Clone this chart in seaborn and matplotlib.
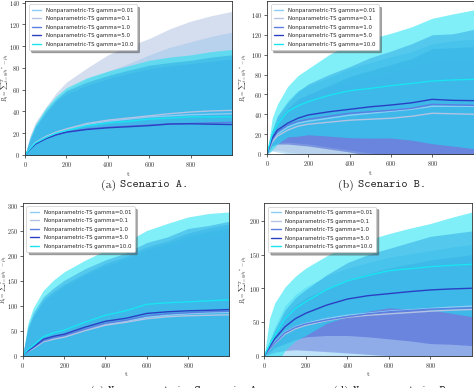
import numpy as np
import pandas as pd
import matplotlib
matplotlib.use("Agg")
import matplotlib.pyplot as plt
import seaborn as sns

# ---------------- data ----------------
t = [0, 25, 50, 100, 150, 200, 300, 400, 500, 600, 700, 800, 900, 1000]
gammas = ["0.01", "0.1", "1.0", "5.0", "10.0"]

# Scenario A
mean_a_001 = [0, 6, 11, 16, 20, 23, 28, 31, 33, 35, 36, 37, 37.5, 38]
std_a_001 = [0, 12, 17, 26, 32, 37, 42, 46, 51, 57, 63, 67, 71.5, 75]
mean_a_01 = [0, 6, 11.5, 17, 21, 24, 29, 32, 34, 36, 38, 39.5, 40.5, 41]
std_a_01 = [0, 12, 18.5, 27, 36, 43, 51, 60, 66, 71, 78, 83.5, 87.5, 91]
mean_a_1 = [0, 5.5, 10, 15, 18.5, 21, 24, 25.5, 26.5, 27.5, 28.5, 29, 29.5, 30]
std_a_1 = [0, 8.5, 15, 23, 30.5, 35, 40, 44.5, 48.5, 51.5, 53.5, 55, 56.5, 58]
mean_a_5 = [0, 5.5, 10, 15, 18.5, 21, 23.5, 25, 26, 27, 28.5, 28.7, 28.3, 28]
std_a_5 = [0, 9.5, 16, 25, 32.5, 38, 43.5, 48, 52, 55.5, 56.5, 58.3, 61.7, 64]
mean_a_10 = [0, 6, 11, 16, 20, 22.5, 27, 29.5, 31, 33, 34, 35, 35, 35]
std_a_10 = [0, 10, 17, 27, 34, 39.5, 44, 47.5, 51, 54, 56, 57, 60, 62]

# Scenario B
mean_b_001 = [0, 13, 20, 27, 31, 33, 36, 39, 41, 43, 45, 48, 48, 48]
std_b_001 = [0, 10, 18, 27, 33, 36, 41, 47, 51, 55, 58, 63, 66, 68]
mean_b_01 = [0, 12, 18, 24, 28, 30, 32, 34, 35, 36, 38, 41, 40.5, 40]
std_b_01 = [0, 8, 14, 22, 27, 30, 35, 39, 42, 46, 49, 53, 54.5, 55]
mean_b_1 = [0, 14, 22, 29, 33, 35, 38, 41, 42.5, 44, 46, 50, 49.5, 49]
std_b_1 = [0, 5, 11, 17, 22, 25, 31, 37, 41.5, 46, 50, 56, 57.5, 59]
mean_b_5 = [0, 16, 24, 31, 36, 39.3, 42.5, 45, 47.5, 49.3, 51.5, 55, 54, 53.7]
std_b_5 = [0, 8, 14, 21, 27, 31.3, 37.5, 43, 49.5, 54.3, 59.5, 65, 67, 71.7]
mean_b_10 = [0, 20, 30, 42.6, 48.5, 52.7, 59, 63.7, 66, 68.8, 71, 73.5, 74.5, 75.2]
std_b_10 = [0, 16, 20, 25.4, 30.5, 33.3, 41, 47.3, 50, 52.7, 57, 63.1, 66.5, 69.8]

# Scenario C (bottom left)
mean_c_001 = [0, 9, 15, 29, 35, 39, 52, 63, 69, 77, 81, 84, 86, 87]
std_c_001 = [0, 44, 62, 80, 91, 100, 110, 118, 126, 136, 144, 156, 163, 170]
mean_c_01 = [0, 8.5, 14, 28, 33, 37, 50, 61, 67, 74, 78, 80, 81, 82]
std_c_01 = [0, 43, 60, 78, 89, 98, 108, 116, 124, 134, 142, 152, 158, 165]
mean_c_1 = [0, 9, 16, 30, 36, 40, 53, 65, 71, 80, 84, 86, 88, 89]
std_c_1 = [0, 45, 63, 82, 93, 103, 112, 120, 128, 138, 146, 160, 168, 175]
mean_c_5 = [0, 10, 17, 33, 39, 43, 57, 69, 75, 84.7, 88, 90, 91, 92.5]
std_c_5 = [0, 48, 68, 85, 97, 108, 117, 123, 131, 142, 150, 165, 170, 177]
mean_c_10 = [0, 12, 20, 38, 46, 51, 67, 81, 90, 103, 106, 108, 110, 112]
std_c_10 = [0, 53, 75, 93, 106, 117, 124, 130, 138, 148, 159, 170, 175, 176]

# Scenario D (bottom right)
mean_d_001 = [0, 10, 20, 35, 43, 48, 55, 60, 63, 66, 68, 70, 72, 73.5]
std_d_001 = [0, 12, 23, 39, 48, 54, 63, 70, 75, 80, 83, 86, 89, 91.5]
mean_d_01 = [0, 9, 18, 32, 40, 45, 52, 57, 60, 62, 64, 66, 67.5, 68.5]
std_d_01 = [0, 6, 13, 25, 32, 37, 45, 52, 58, 62, 67, 71, 75.5, 78.5]
mean_d_1 = [0, 10, 19, 34, 42, 47, 53, 58, 62, 65, 67, 69, 70, 71]
std_d_1 = [0, 8, 14, 26, 33, 39, 47, 54, 60, 65, 69, 73, 76, 79]
mean_d_5 = [0, 13, 25, 43, 55, 63, 75, 84, 89, 92, 95, 97.5, 99, 100]
std_d_5 = [0, 8, 13, 25, 31, 35, 45, 54, 61, 67, 73, 79.5, 82, 85]
mean_d_10 = [0, 16, 30, 55, 70, 80, 98, 111, 119, 126, 129, 132, 134, 135.5]
std_d_10 = [0, 39, 48, 47, 48, 50, 50, 53, 53, 55, 60, 64, 71, 77.5]

panels = [
    ([mean_a_001, mean_a_01, mean_a_1, mean_a_5, mean_a_10],
     [std_a_001, std_a_01, std_a_1, std_a_5, std_a_10], [0, 20, 40, 60, 80, 100, 120, 140], 141.5),
    ([mean_b_001, mean_b_01, mean_b_1, mean_b_5, mean_b_10],
     [std_b_001, std_b_01, std_b_1, std_b_5, std_b_10], [0, 20, 40, 60, 80, 100, 120, 140], 154),
    ([mean_c_001, mean_c_01, mean_c_1, mean_c_5, mean_c_10],
     [std_c_001, std_c_01, std_c_1, std_c_5, std_c_10], [0, 50, 100, 150, 200, 250, 300], 306),
    ([mean_d_001, mean_d_01, mean_d_1, mean_d_5, mean_d_10],
     [std_d_001, std_d_01, std_d_1, std_d_5, std_d_10], [0, 50, 100, 150, 200], 226),
]
captions = [("(a)", "Scenario A."), ("(b)", "Scenario B."),
            ("(c)", "Nonparametric Scenario A."), ("(d)", "Nonparametric Bernoulli Scenario B.")]

line_colors = ["#8ccdf5", "#b4c3e3", "#5b7ee0", "#2b3fc2", "#1ae3f2"]
fill_colors = ["#8ccdf5", "#b4c3e3", "#6f8fe6", "#4a66d6", "#1ae3f2"]
labels = ["Nonparametric-TS gamma=" + g for g in gammas]

# ---------------- figure ----------------
sns.set_theme(style="ticks")
plt.rcParams["font.family"] = ["cmr10", "DejaVu Serif"]
plt.rcParams["mathtext.fontset"] = "cm"
plt.rcParams["axes.formatter.use_mathtext"] = True

fig = plt.figure(figsize=(4.74, 3.88), dpi=100)
W, H = 474, 388
boxes = [(25, 232, 1, 155), (267, 473.5, 1, 154), (22.7, 229.3, 203, 355.7), (264.3, 471.8, 203.3, 355.7)]
ylab_x = [-0.07, -0.085, -0.067, -0.074]
cap_pos = [(120, 185), (358, 185), (108, 391), (353, 391)]

for k, (means, stds, yt, ytop) in enumerate(panels):
    l, r, tp, b = boxes[k]
    ax = fig.add_axes([l / W, 1 - b / H, (r - l) / W, (b - tp) / H])
    rows = []
    for g, lab, m in zip(gammas, labels, means):
        for ti, mi in zip(t, m):
            rows.append({"t": ti, "R": mi, "label": lab})
    df = pd.DataFrame(rows)
    for c, m, s in zip(fill_colors, means, stds):
        m = np.array(m, float)
        s = np.array(s, float)
        ax.fill_between(t, m - s, m + s, color=c, alpha=0.55, lw=0)
    sns.lineplot(data=df, x="t", y="R", hue="label", palette=line_colors, ax=ax, lw=1.0)
    ax.set_xlim(0, 1000)
    ax.set_ylim(0, ytop)
    ax.set_xticks([0, 200, 400, 600, 800])
    ax.set_yticks(yt)
    ax.tick_params(labelsize=4.4, length=2, width=0.5, pad=1.5)
    for sp in ax.spines.values():
        sp.set_linewidth(0.6)
        sp.set_color("#333333")
    ax.set_xlabel("t", fontsize=5, labelpad=1.5)
    ax.set_ylabel(r"$R_t = {\sum}_{t=0}^{T}\mu_t^* - \mu_t$", fontsize=4.0)
    ax.yaxis.set_label_coords(ylab_x[k], 0.5)
    leg = ax.legend(loc="upper left", frameon=True, shadow=True,
                    prop={"family": "DejaVu Sans", "size": 3.9},
                    fancybox=True, borderpad=0.6, labelspacing=0.65, handlelength=1.7,
                    handletextpad=0.9, bbox_to_anchor=(0.005, 0.995))
    leg.get_frame().set_linewidth(0.5)
    for line in leg.get_lines():
        line.set_linewidth(1.0)
    cx, cy = cap_pos[k]
    a, s = captions[k]
    fig.text(cx / W, 1 - cy / H, a + " ", fontsize=8.5, family="cmr10",
             ha="right", va="center")
    fig.text(cx / W, 1 - cy / H, s, fontsize=8.5, family="cmtt10",
             ha="left", va="center")

fig.savefig("out.png", dpi=100)
